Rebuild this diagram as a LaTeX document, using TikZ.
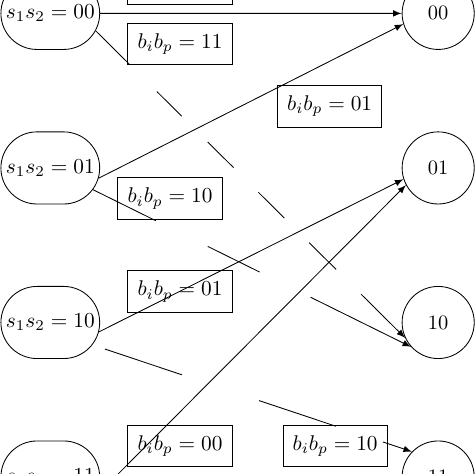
\documentclass[tikz,border=0pt]{standalone}
\usetikzlibrary{shapes.misc}
\tikzset{
  srcnode/.style={draw,rounded rectangle,minimum width=0.43cm,minimum height=1.19cm,inner xsep=-0.6cm,inner ysep=0pt},
  dstnode/.style={draw,circle,minimum size=1.19cm,inner sep=0pt},
  lab/.style={draw,rectangle,minimum width=1.72cm,minimum height=0.69cm,inner sep=0pt},
  cutA/.style={dash pattern=on 0.795cm off 0.626cm on 0.579cm off 0.602cm on 0.602cm off 0.579cm on 0.602cm off 0.579cm on 0.626cm off 0.579cm on 3cm},
  cutB/.style={dash pattern=on 1.158cm off 0.955cm on 0.955cm off 0.937cm on 4cm},
  cutC/.style={dash pattern=on 0pt off 0.218cm on 1.34cm off 1.34cm on 1.34cm off 0.818cm on 3cm}
}
\begin{document}
\begin{tikzpicture}[every node/.style={font=\fontsize{9.6pt}{11.5pt}\selectfont}]
\useasboundingbox (0,0) rectangle (7.821,7.821);
\foreach \n/\y in {00/7.6,01/5.05,10/2.5,11/-0.05}{
\node[srcnode] (s\n) at (0.83,\y) {$s_1s_2=\n$};
\node[dstnode] (d\n) at (7.23,\y) {\n};
}
% labels
\node[lab] (l0) at (2.97,8.10) {};
\node[lab] (l11) at (2.97,7.095) {$b_ib_p=11$};
\node[lab] (l01a) at (5.44,6.07) {$b_ib_p=01$};
\node[lab] (l10a) at (2.805,4.546) {$b_ib_p=10$};
\node[lab] (l01b) at (2.97,3.011) {$b_ib_p=01$};
\node[lab] (l00) at (2.97,0.462) {$b_ib_p=00$};
\node[lab] (l10b) at (5.53,0.462) {$b_ib_p=10$};
% transitions
\draw[-latex] (s00)--(d00);
\draw[-latex,cutA] (s00.-21)--(d10.205);
\draw[-latex] (s01.-12)--(d00.197);
\draw[-latex,cutB] (s01.-27)--(d10.222);
\draw[-latex] (s10.-11)--(d01.198);
\draw[-latex,cutC] (s10.-28)--(d11.136);
\draw[-latex] (s11.-34)--(d01.208);
\end{tikzpicture}
\end{document}
